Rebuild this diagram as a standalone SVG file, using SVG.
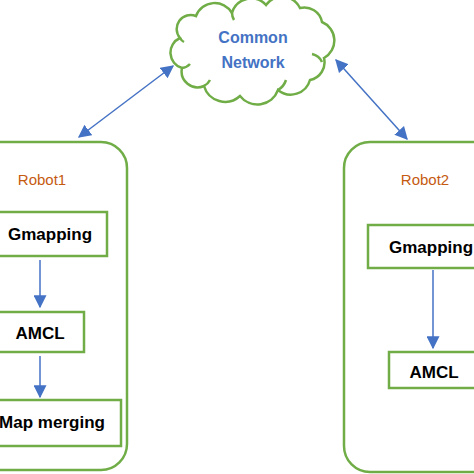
<svg xmlns="http://www.w3.org/2000/svg" width="474" height="474" viewBox="0 0 474 474">
<defs>
<style>
.cont{fill:#fff;stroke:#70AD47;stroke-width:2.5}
.box{fill:#fff;stroke:#70AD47;stroke-width:2.5}
.lbl{font-family:"Liberation Sans",Arial,sans-serif;font-weight:bold;font-size:17px;fill:#000;text-anchor:middle}
.rob{font-family:"Liberation Sans",Arial,sans-serif;font-size:15px;fill:#C55A11;text-anchor:middle}
.net{font-family:"Liberation Sans",Arial,sans-serif;font-weight:bold;font-size:16px;fill:#4472C4;text-anchor:middle}
.con{stroke:#4472C4;stroke-width:1.5;fill:none}
</style>
<marker id="ab" viewBox="0 0 10 10" refX="9" refY="5" markerWidth="13" markerHeight="13" markerUnits="userSpaceOnUse" orient="auto-start-reverse">
<path d="M0,0 L10,5 L0,10 Z" fill="#4472C4"/>
</marker>
</defs>
<g id="cloud">
<path class="cont" d="M180,38 A14,14 0 0 1 196,16 A20,20 0 0 1 232,13 A20,20 0 0 1 266,5 A20,20 0 0 1 300,8 A18,18 0 0 1 322,22 A20,20 0 0 1 324,58 A18,18 0 0 1 310,80 A20,20 0 0 1 278,90 A22,22 0 0 1 240,96 A22,22 0 0 1 204,86 A16,16 0 0 1 182,68 A16,16 0 0 1 180,38 Z"/>
<path d="M312,54 A14,14 0 0 1 322,62 M278,90 A18,18 0 0 0 286,80 M204,86 A14,14 0 0 0 210,80 M182,68 A12,12 0 0 0 190,64 M180,38 A10,10 0 0 0 184,42 M232,13 A14,14 0 0 0 234,20" fill="none" stroke="#70AD47" stroke-width="2.5"/>
<text class="net" x="253" y="43">Common</text>
<text class="net" x="253" y="68">Network</text>
</g>
<g id="robot1">
<rect class="cont" x="-30" y="142" width="157" height="328" rx="26"/>
<text class="rob" x="42" y="185">Robot1</text>
</g>
<g id="gmapping1">
<rect class="box" x="-10" y="212" width="117" height="44"/>
<text class="lbl" x="50" y="240">Gmapping</text>
</g>
<g id="amcl1">
<rect class="box" x="-10" y="312" width="94" height="40"/>
<text class="lbl" x="40" y="339">AMCL</text>
</g>
<g id="mapmerging">
<rect class="box" x="-10" y="400" width="131" height="46"/>
<text class="lbl" x="52" y="428">Map merging</text>
</g>
<g id="robot2">
<rect class="cont" x="344" y="142" width="160" height="330" rx="26"/>
<text class="rob" x="425" y="185">Robot2</text>
</g>
<g id="gmapping2">
<rect class="box" x="368" y="225" width="120" height="43"/>
<text class="lbl" x="431" y="253">Gmapping</text>
</g>
<g id="amcl2">
<rect class="box" x="389" y="352" width="100" height="36"/>
<text class="lbl" x="434" y="378">AMCL</text>
</g>
<g id="connectors">
<line class="con" x1="79" y1="137" x2="173" y2="66" marker-start="url(#ab)" marker-end="url(#ab)"/>
<line class="con" x1="336" y1="60" x2="407" y2="139" marker-start="url(#ab)" marker-end="url(#ab)"/>
<line class="con" x1="40" y1="260" x2="40" y2="307" marker-end="url(#ab)"/>
<line class="con" x1="40" y1="356" x2="40" y2="397" marker-end="url(#ab)"/>
<line class="con" x1="433" y1="270" x2="433" y2="348" marker-end="url(#ab)"/>
</g>
</svg>
